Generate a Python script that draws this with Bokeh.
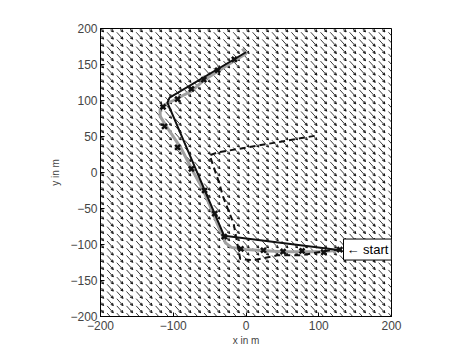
import numpy as np
from bokeh.plotting import figure
from bokeh.models import Label, FixedTicker
from bokeh.embed import file_html
from bokeh.resources import INLINE

# uniform current field
field_x = list(np.linspace(-200, 200, 31))
field_y = list(np.linspace(-200, 200, 41))
current_u = 8.5
current_v = -9.5

# trajectories (x in m, y in m)
true_x = [130, 100, 50, 0, -20, -28, -40, -50, -60, -72, -90, -108, -118, -118, -112, -100, -75, -58, -38, -15, 0, -5]
true_y = [-108, -110, -110, -107, -104, -98, -70, -45, -22, 0, 35, 62, 78, 88, 94, 100, 113, 128, 141, 156, 165, 172]

est_x = [130, -30, -108, -105, 0]
est_y = [-108, -88, 97, 104, 167]

dr_x = [129, 116, 75, 43, 10, -8, -17, -31, -38, -50, -38, 95]
dr_y = [-107, -108, -115, -115, -122, -120, -71, -35, -11, 24, 28, 51]

fix_x = [129, 107, 77, 51, 24, -7, -30, -43, -57, -75, -94, -112, -114, -94, -75, -58, -39, -16]
fix_y = [-107, -111, -109, -110, -108, -106, -89, -57, -25, 5, 35, 64, 91, 102, 116, 129, 142, 157]

start_label = "← start"

p = figure(width=474, height=355, x_range=(-200, 200), y_range=(-200, 200),
           output_backend="svg", toolbar_location=None,
           min_border_left=100, min_border_right=83, min_border_top=28, min_border_bottom=39)
p.xgrid.visible = False
p.ygrid.visible = False
p.outline_line_color = "black"
p.outline_line_width = 1
p.background_fill_color = "white"

# quiver field
gx, gy = np.meshgrid(field_x, field_y)
x0 = gx.ravel() - current_u / 2
y0 = gy.ravel() - current_v / 2
x1 = x0 + current_u
y1 = y0 + current_v
p.segment(x0, y0, x1, y1, line_color="#222222", line_width=0.9)
# arrowheads
ang = np.arctan2(current_v, current_u)
L = np.hypot(current_u, current_v) * 0.3
for da in (2.7, -2.7):
    p.segment(x1, y1, x1 + L * np.cos(ang + da), y1 + L * np.sin(ang + da),
              line_color="#111111", line_width=1)

p.line(true_x, true_y, line_color="#a0a0a0", line_width=3)
p.line(est_x, est_y, line_color="#111111", line_width=2)
p.line(dr_x, dr_y, line_color="#111111", line_width=2, line_dash="6 4")
p.scatter(fix_x, fix_y, marker="x", size=7, line_color="#111111", line_width=2.5)

lab = Label(x=134, y=-107, text=start_label, text_baseline="middle", text_align="left",
            text_font="Liberation Sans", text_font_size="13px", text_color="black",
            background_fill_color="white", border_line_color="black",
            padding=3)
p.add_layout(lab)

for ax in (p.xaxis[0], p.yaxis[0]):
    ax.major_tick_in = 4
    ax.major_tick_out = 0
    ax.minor_tick_line_color = None
    ax.axis_line_color = "black"
    ax.major_label_text_font = "Liberation Sans"
    ax.major_label_text_font_size = "12px"
    ax.axis_label_text_font = "Liberation Sans"
    ax.axis_label_text_font_size = "10px"
    ax.axis_label_text_font_style = "normal"
p.xaxis.ticker = FixedTicker(ticks=[-200, -100, 0, 100, 200])
p.yaxis.ticker = FixedTicker(ticks=[-200, -150, -100, -50, 0, 50, 100, 150, 200])
p.xaxis.axis_label = "x in m"
p.yaxis.axis_label = "y in m"
p.xaxis.major_label_standoff = 4
p.yaxis.major_label_standoff = 3
p.xaxis.axis_label_standoff = 2
p.yaxis.axis_label_standoff = 6

open("out.html", "w").write(file_html(p, INLINE))
